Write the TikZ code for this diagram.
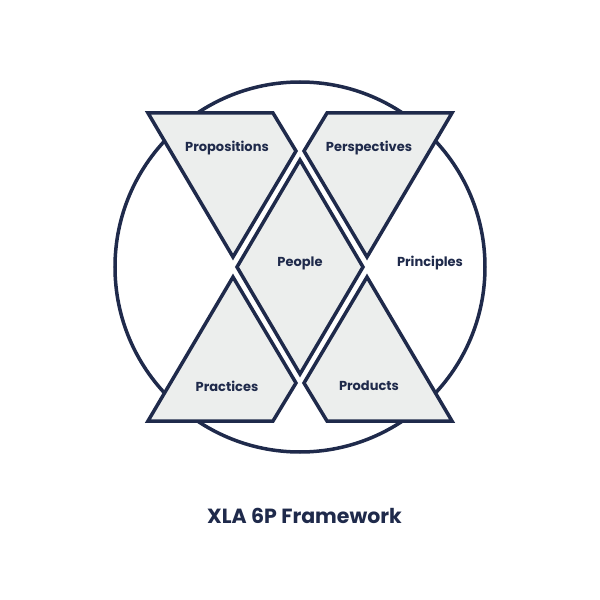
\documentclass[tikz,border=0pt]{standalone}
\usepackage{fontspec}
\setmainfont{Poppins}
\usepackage{xcolor}
\usepackage{tikz}

\definecolor{navy}{RGB}{31,42,75}
\definecolor{panel}{RGB}{236,238,237}

\tikzset{
  piece/.style={draw=navy, fill=panel, line width=3.5pt, line join=miter},
  lbl/.style={text=navy, font=\bfseries\fontsize{13}{15}\selectfont},
  ttl/.style={text=navy, font=\bfseries\fontsize{20.5}{24}\selectfont},
}

\begin{document}
\begin{tikzpicture}[x=1pt,y=1pt]
\useasboundingbox[fill=white] (-300,-333) rectangle (300,267);

\draw[navy, line width=3.5pt] (0,0) circle (185);

\draw[piece] (-152,154) -- (-27,154) -- (-4,116) -- (-67,10) -- cycle;
\draw[piece] (152,154) -- (27,154) -- (4,116) -- (67,10) -- cycle;
\draw[piece] (0,107) -- (63,0) -- (0,-107) -- (-63,0) -- cycle;
\draw[piece] (-152,-154) -- (-27,-154) -- (-4,-116) -- (-67,-10) -- cycle;
\draw[piece] (152,-154) -- (27,-154) -- (4,-116) -- (67,-10) -- cycle;

\node[lbl] (propositions) at (-73,119) {Propositions};
\node[lbl] (perspectives) at (69,119) {Perspectives};
\node[lbl] (people) at (0,4) {People};
\node[lbl] (principles) at (130,4) {Principles};
\node[lbl] (practices) at (-73,-119) {Practices};
\node[lbl] (products) at (69,-119) {Products};

\node[ttl] (title) at (4.5,-249) {XLA 6P Framework};
\end{tikzpicture}
\end{document}
